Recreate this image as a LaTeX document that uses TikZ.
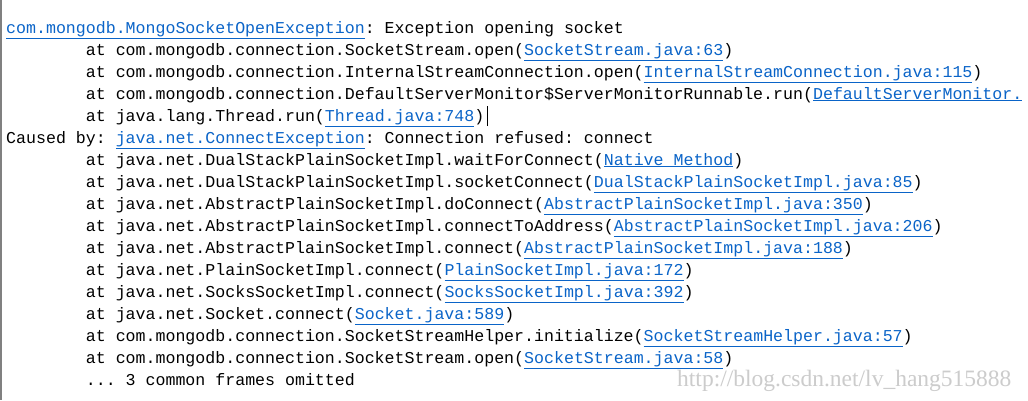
\documentclass[tikz,border=0pt]{standalone}
\usepackage{fontspec}
\setmonofont{Liberation Mono}
\newfontfamily\wmfont{Liberation Serif}
\definecolor{lnk}{RGB}{10,100,200}
\newcommand{\lk}[1]{\textcolor{lnk}{\underline{#1}}}
\begin{document}
\begin{tikzpicture}[x=1pt,y=-1pt,
  ln/.style={anchor=base west,inner sep=0pt,font=\fontsize{16.6}{20}\ttfamily}]
\useasboundingbox (0,0) rectangle (1028,400);
\fill[white] (0,0) rectangle (1028,400);
\draw[gray,line width=1.5pt] (0.75,0) -- (0.75,400);
\begin{scope}
\clip (0,0) rectangle (1028,400);
\node[ln] (l0) at (6,33) {\lk{com.mongodb.MongoSocketOpenException}: Exception opening socket};
\node[ln] (l1) at (6,55) {\phantom{xxxxxxxx}at com.mongodb.connection.SocketStream.open(\lk{SocketStream.java:63})};
\node[ln] (l2) at (6,77) {\phantom{xxxxxxxx}at com.mongodb.connection.InternalStreamConnection.open(\lk{InternalStreamConnection.java:115})};
\node[ln] (l3) at (6,99) {\phantom{xxxxxxxx}at com.mongodb.connection.DefaultServerMonitor\$ServerMonitorRunnable.run(\lk{DefaultServerMonitor.}};
\node[ln] (l4) at (6,121) {\phantom{xxxxxxxx}at java.lang.Thread.run(\lk{Thread.java:748})};
\draw (l4.base east) ++(3,5) -- ++(0,-20);
\node[ln] (l5) at (6,143) {Caused by: \lk{java.net.ConnectException}: Connection refused: connect};
\node[ln] (l6) at (6,165) {\phantom{xxxxxxxx}at java.net.DualStackPlainSocketImpl.waitForConnect(\lk{Native Method})};
\node[ln] (l7) at (6,187) {\phantom{xxxxxxxx}at java.net.DualStackPlainSocketImpl.socketConnect(\lk{DualStackPlainSocketImpl.java:85})};
\node[ln] (l8) at (6,209) {\phantom{xxxxxxxx}at java.net.AbstractPlainSocketImpl.doConnect(\lk{AbstractPlainSocketImpl.java:350})};
\node[ln] (l9) at (6,231) {\phantom{xxxxxxxx}at java.net.AbstractPlainSocketImpl.connectToAddress(\lk{AbstractPlainSocketImpl.java:206})};
\node[ln] (l10) at (6,253) {\phantom{xxxxxxxx}at java.net.AbstractPlainSocketImpl.connect(\lk{AbstractPlainSocketImpl.java:188})};
\node[ln] (l11) at (6,275) {\phantom{xxxxxxxx}at java.net.PlainSocketImpl.connect(\lk{PlainSocketImpl.java:172})};
\node[ln] (l12) at (6,297) {\phantom{xxxxxxxx}at java.net.SocksSocketImpl.connect(\lk{SocksSocketImpl.java:392})};
\node[ln] (l13) at (6,319) {\phantom{xxxxxxxx}at java.net.Socket.connect(\lk{Socket.java:589})};
\node[ln] (l14) at (6,341) {\phantom{xxxxxxxx}at com.mongodb.connection.SocketStreamHelper.initialize(\lk{SocketStreamHelper.java:57})};
\node[ln] (l15) at (6,363) {\phantom{xxxxxxxx}at com.mongodb.connection.SocketStream.open(\lk{SocketStream.java:58})};
\node[ln] (l16) at (6,385) {\phantom{xxxxxxxx}... 3 common frames omitted};
\node[anchor=base west,inner sep=0pt,text=black!20,font=\wmfont\fontsize{23.5}{26}\selectfont] (wm) at (677,386) {http://blog.csdn.net/lv\_hang515888};
\end{scope}
\end{tikzpicture}
\end{document}
